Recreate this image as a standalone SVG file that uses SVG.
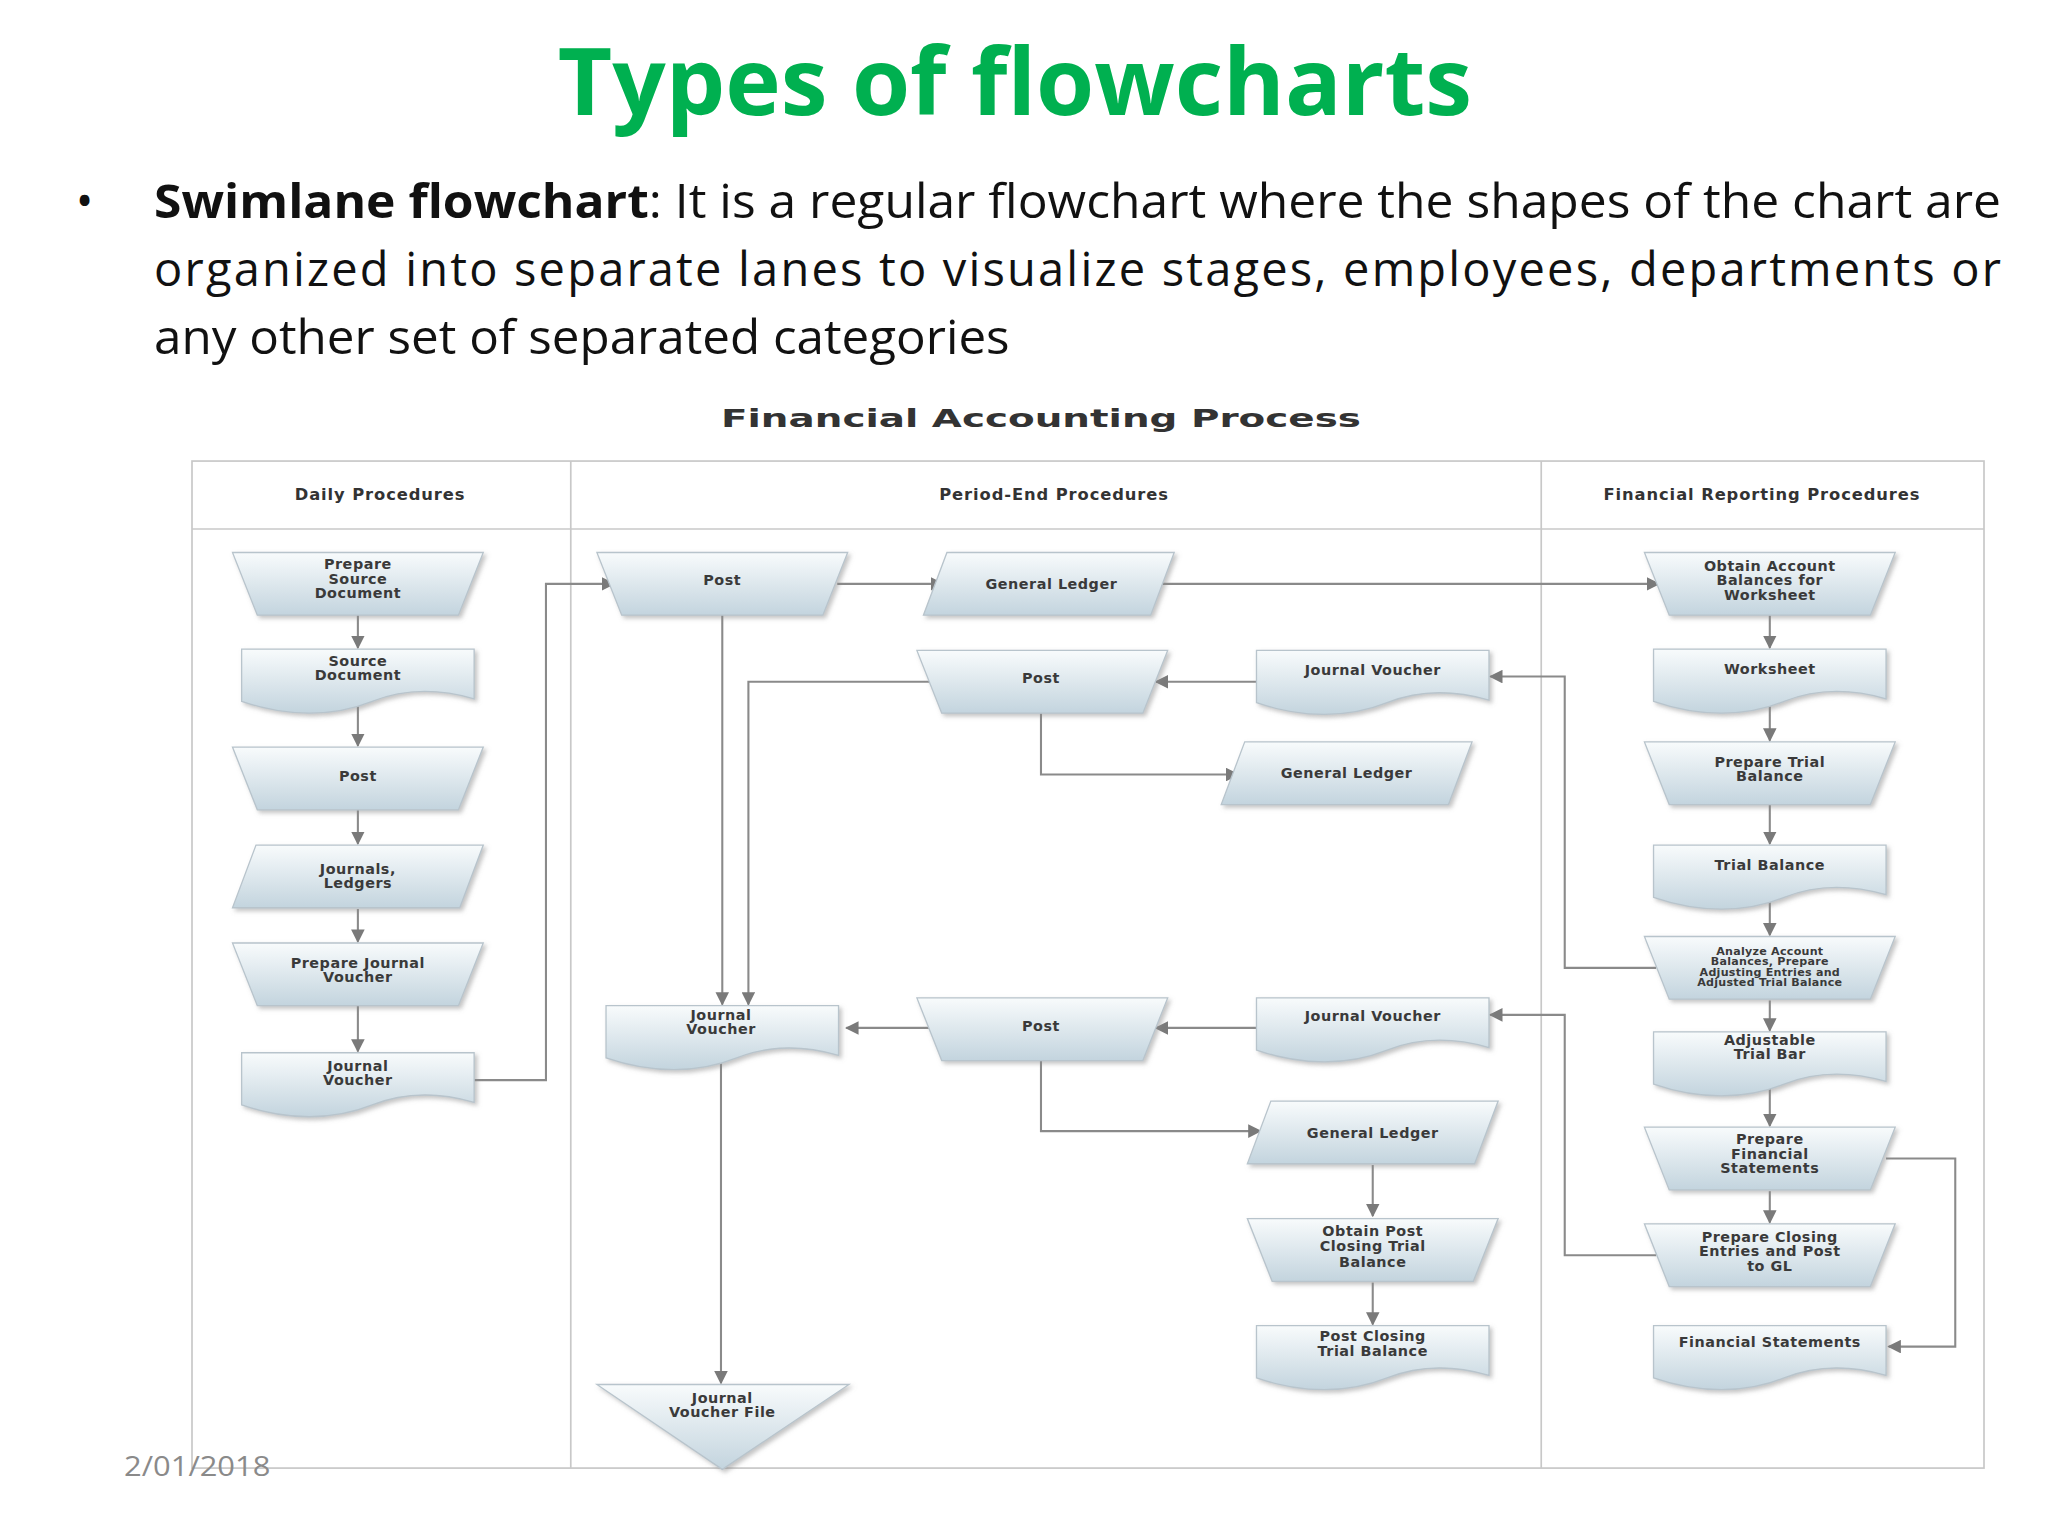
<svg xmlns="http://www.w3.org/2000/svg" xmlns:xlink="http://www.w3.org/1999/xlink" width="2048" height="1536" viewBox="0 0 2048 1536">
<style>
.sh{fill:url(#g);stroke:#b8c4cc;stroke-width:1;filter:url(#sd)}
.t{font-family:"DejaVu Sans",sans-serif;font-weight:bold;font-size:11px;letter-spacing:0.4px;fill:#3a3a3a;text-anchor:middle}
.h{font-family:"DejaVu Sans",sans-serif;font-weight:bold;font-size:12.5px;letter-spacing:0.7px;fill:#333;text-anchor:middle}
.c{fill:none;stroke:#8a8a8a;stroke-width:1.6}
.ln{fill:none;stroke:#c8c8c8;stroke-width:1.3}
</style>
<defs>
<linearGradient id="g" x1="0" y1="0" x2="0" y2="1"><stop offset="0" stop-color="#f8fbfc"/><stop offset="1" stop-color="#c3d4de"/></linearGradient>
<filter id="sd" x="-10%" y="-10%" width="125%" height="130%"><feDropShadow dx="2" dy="2" stdDeviation="1.5" flood-color="#888" flood-opacity="0.5"/></filter>
<marker id="a" viewBox="0 0 10 10" refX="9" refY="5" markerWidth="6.5" markerHeight="6.5" orient="auto"><path d="M0,0 L10,5 L0,10z" fill="#7a7a7a"/></marker>
<path id="trap" d="M0,0 H192 L173,48 H19 Z"/>
<path id="par" d="M18,0 H192 L174,48 H0 Z"/>
<path id="doc" d="M0,0 H178 V38 C150,30 125,30 100,40 C70,52 35,52 0,40 Z"/>
</defs>
<rect width="2048" height="1536" fill="#fff"/>
<g transform="scale(1.306122)">
<text x="777" y="88" font-family="Open Sans, Liberation Sans, sans-serif" font-weight="bold" font-size="72" fill="#00B050" text-anchor="middle" textLength="700" lengthAdjust="spacingAndGlyphs">Types of flowcharts</text>
<g font-family="Open Sans, Liberation Sans, sans-serif" font-size="36" fill="#111">
<text x="58" y="167">•</text>
<text x="118" y="167" textLength="1414" lengthAdjust="spacingAndGlyphs"><tspan font-weight="bold">Swimlane flowchart</tspan>: It is a regular flowchart where the shapes of the chart are</text>
<text x="118" y="219" textLength="1414" lengthAdjust="spacing">organized into separate lanes to visualize stages, employees, departments or</text>
<text x="118" y="271" textLength="655" lengthAdjust="spacingAndGlyphs">any other set of separated categories</text>
</g>
<text x="797" y="327" font-family="DejaVu Sans, sans-serif" font-weight="bold" font-size="19" fill="#333" text-anchor="middle" textLength="490" lengthAdjust="spacingAndGlyphs">Financial Accounting Process</text>
<g id="frame">
<rect x="147" y="353" width="1372" height="771" class="ln"/>
<line x1="147" y1="405" x2="1519" y2="405" class="ln"/>
<line x1="437" y1="353" x2="437" y2="1124" class="ln"/>
<line x1="1180" y1="353" x2="1180" y2="1124" class="ln"/>
<text x="291" y="383" class="h">Daily Procedures</text>
<text x="807" y="383" class="h">Period-End Procedures</text>
<text x="1349" y="383" class="h">Financial Reporting Procedures</text>
</g>
<g id="connectors">
<path class="c" marker-end="url(#a)" d="M274,470 V496"/>
<path class="c" marker-end="url(#a)" d="M274,537 V571"/>
<path class="c" marker-end="url(#a)" d="M274,620 V646"/>
<path class="c" marker-end="url(#a)" d="M274,696 V721"/>
<path class="c" marker-end="url(#a)" d="M274,770 V805"/>
<path class="c" marker-end="url(#a)" d="M363,827 H418 V447 H470"/>
<path class="c" marker-end="url(#a)" d="M641,447 H722"/>
<path class="c" marker-end="url(#a)" d="M890,447 H1270"/>
<path class="c" marker-end="url(#a)" d="M963,522 H885"/>
<path class="c" marker-end="url(#a)" d="M797,546 V593 H948"/>
<path class="c" marker-end="url(#a)" d="M712,522 H573 V769"/>
<path class="c" marker-end="url(#a)" d="M553,470 V769"/>
<path class="c" marker-end="url(#a)" d="M712,787 H648"/>
<path class="c" marker-end="url(#a)" d="M963,787 H885"/>
<path class="c" marker-end="url(#a)" d="M797,812 V866 H965"/>
<path class="c" marker-end="url(#a)" d="M1051,892 V931"/>
<path class="c" marker-end="url(#a)" d="M1051,982 V1014"/>
<path class="c" marker-end="url(#a)" d="M552,810 V1059"/>
<path class="c" marker-end="url(#a)" d="M1355,471 V496"/>
<path class="c" marker-end="url(#a)" d="M1355,537 V567"/>
<path class="c" marker-end="url(#a)" d="M1355,616 V646"/>
<path class="c" marker-end="url(#a)" d="M1355,687 V716"/>
<path class="c" marker-end="url(#a)" d="M1355,766 V789"/>
<path class="c" marker-end="url(#a)" d="M1355,829 V862"/>
<path class="c" marker-end="url(#a)" d="M1355,912 V936"/>
<path class="c" marker-end="url(#a)" d="M1268,741 H1198 V518 H1141"/>
<path class="c" marker-end="url(#a)" d="M1268,961 H1198 V777 H1141"/>
<path class="c" marker-end="url(#a)" d="M1444,887 H1497 V1031 H1446"/>
</g>
<g id="n1"><use xlink:href="#trap" class="sh" x="178" y="423"/><text class="t" x="274" y="436">Prepare</text><text class="t" x="274" y="447">Source</text><text class="t" x="274" y="458">Document</text></g>
<g id="n2"><use xlink:href="#doc" class="sh" x="185" y="497"/><text class="t" x="274" y="510">Source</text><text class="t" x="274" y="521">Document</text></g>
<g id="n3"><use xlink:href="#trap" class="sh" x="178" y="572"/><text class="t" x="274" y="598">Post</text></g>
<g id="n4"><use xlink:href="#par" class="sh" x="178" y="647"/><text class="t" x="274" y="669">Journals,</text><text class="t" x="274" y="680">Ledgers</text></g>
<g id="n5"><use xlink:href="#trap" class="sh" x="178" y="722"/><text class="t" x="274" y="741">Prepare Journal</text><text class="t" x="274" y="752">Voucher</text></g>
<g id="n6"><use xlink:href="#doc" class="sh" x="185" y="806"/><text class="t" x="274" y="820">Journal</text><text class="t" x="274" y="831">Voucher</text></g>
<g id="n7"><use xlink:href="#trap" class="sh" x="457" y="423"/><text class="t" x="553" y="448">Post</text></g>
<g id="n8"><use xlink:href="#par" class="sh" x="707" y="423"/><text class="t" x="805" y="451">General Ledger</text></g>
<g id="n9"><use xlink:href="#trap" class="sh" x="702" y="498"/><text class="t" x="797" y="523">Post</text></g>
<g id="n10"><use xlink:href="#doc" class="sh" x="962" y="498"/><text class="t" x="1051" y="517">Journal Voucher</text></g>
<g id="n11"><use xlink:href="#par" class="sh" x="935" y="568"/><text class="t" x="1031" y="596">General Ledger</text></g>
<g id="n12"><use xlink:href="#doc" class="sh" x="464" y="770"/><text class="t" x="552" y="781">Journal</text><text class="t" x="552" y="792">Voucher</text></g>
<g id="n13"><use xlink:href="#trap" class="sh" x="702" y="764"/><text class="t" x="797" y="789">Post</text></g>
<g id="n14"><use xlink:href="#doc" class="sh" x="962" y="764"/><text class="t" x="1051" y="782">Journal Voucher</text></g>
<g id="n15"><use xlink:href="#par" class="sh" x="955" y="843"/><text class="t" x="1051" y="871">General Ledger</text></g>
<g id="n16"><use xlink:href="#trap" class="sh" x="955" y="933"/><text class="t" x="1051" y="946">Obtain Post</text><text class="t" x="1051" y="958">Closing Trial</text><text class="t" x="1051" y="970">Balance</text></g>
<g id="n17"><use xlink:href="#doc" class="sh" x="962" y="1015"/><text class="t" x="1051" y="1027">Post Closing</text><text class="t" x="1051" y="1038">Trial Balance</text></g>
<g id="n18"><path class="sh" d="M457,1060 H650 L553,1125 Z"/><text class="t" x="553" y="1074">Journal</text><text class="t" x="553" y="1085">Voucher File</text></g>
<g id="n19"><use xlink:href="#trap" class="sh" x="1259" y="423"/><text class="t" x="1355" y="437">Obtain Account</text><text class="t" x="1355" y="448">Balances for</text><text class="t" x="1355" y="459">Worksheet</text></g>
<g id="n20"><use xlink:href="#doc" class="sh" x="1266" y="497"/><text class="t" x="1355" y="516">Worksheet</text></g>
<g id="n21"><use xlink:href="#trap" class="sh" x="1259" y="568"/><text class="t" x="1355" y="587">Prepare Trial</text><text class="t" x="1355" y="598">Balance</text></g>
<g id="n22"><use xlink:href="#doc" class="sh" x="1266" y="647"/><text class="t" x="1355" y="666">Trial Balance</text></g>
<g id="n23"><use xlink:href="#trap" class="sh" x="1259" y="717"/><text class="t" x="1355" y="731" style="font-size:8.5px;letter-spacing:0.2px">Analyze Account</text><text class="t" x="1355" y="739" style="font-size:8.5px;letter-spacing:0.2px">Balances, Prepare</text><text class="t" x="1355" y="747" style="font-size:8.5px;letter-spacing:0.2px">Adjusting Entries and</text><text class="t" x="1355" y="755" style="font-size:8.5px;letter-spacing:0.2px">Adjusted Trial Balance</text></g>
<g id="n24"><use xlink:href="#doc" class="sh" x="1266" y="790"/><text class="t" x="1355" y="800">Adjustable</text><text class="t" x="1355" y="811">Trial Bar</text></g>
<g id="n25"><use xlink:href="#trap" class="sh" x="1259" y="863"/><text class="t" x="1355" y="876">Prepare</text><text class="t" x="1355" y="887">Financial</text><text class="t" x="1355" y="898">Statements</text></g>
<g id="n26"><use xlink:href="#trap" class="sh" x="1259" y="937"/><text class="t" x="1355" y="951">Prepare Closing</text><text class="t" x="1355" y="962">Entries and Post</text><text class="t" x="1355" y="973">to GL</text></g>
<g id="n27"><use xlink:href="#doc" class="sh" x="1266" y="1015"/><text class="t" x="1355" y="1031">Financial Statements</text></g>
<text x="95" y="1130" font-family="Open Sans, Liberation Sans, sans-serif" font-size="21" fill="#8a8a8a" textLength="112" lengthAdjust="spacingAndGlyphs">2/01/2018</text>
</g>
</svg>
